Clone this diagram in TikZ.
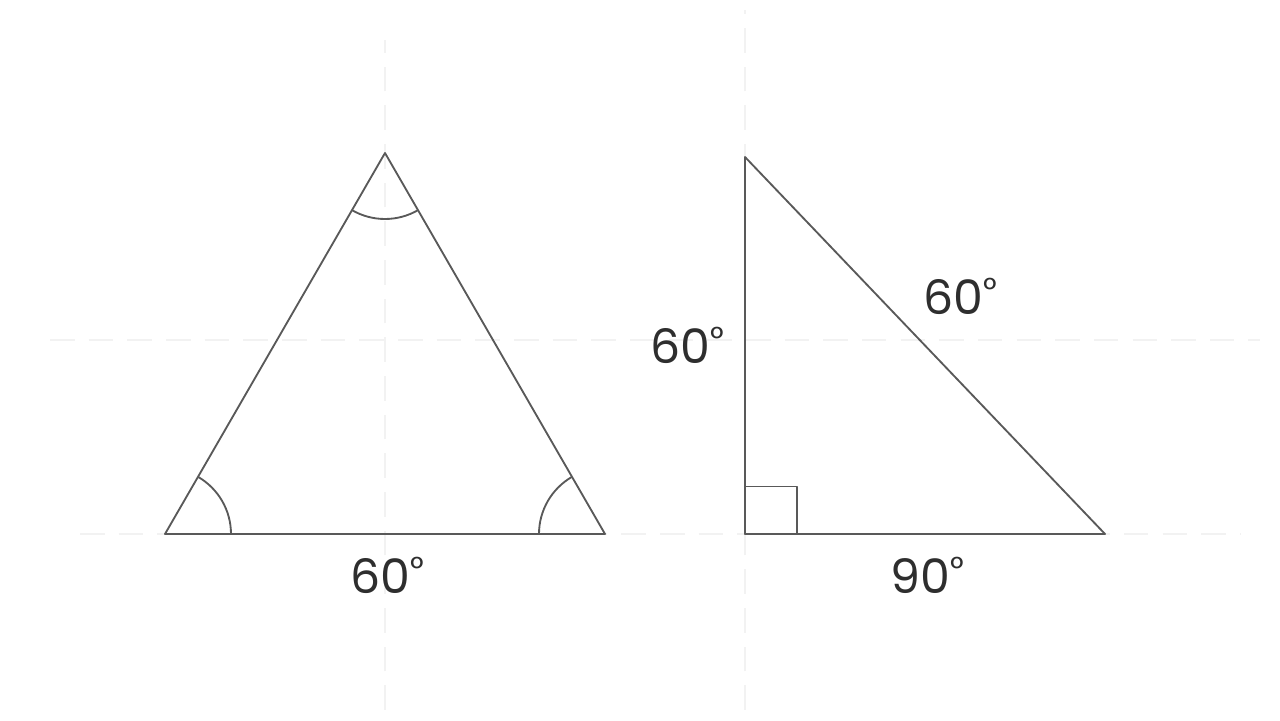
\documentclass[tikz,border=0pt]{standalone}
\usepackage{fontspec}
\setmainfont{Poppins}
\usetikzlibrary{calc}
\newcommand{\dg}{\raisebox{0.5ex}{\fontsize{19}{20}\selectfont°}}
\tikzset{
	guide/.style={draw=black!5, line width=1.2pt, dash pattern=on 14pt off 8pt},
	edge/.style={draw=black!65, line width=1.05pt, line join=round},
	deg/.style={font=\fontsize{27}{30}\selectfont, text=black!82}
}
\begin{document}
\begin{tikzpicture}
\useasboundingbox (0,0) rectangle (25.6,14.4);

% faint guide lines
\draw[guide] (1.0,7.6) -- (25.2,7.6);
\draw[guide] (1.6,3.72) -- (24.8,3.72);
\draw[guide] (7.7,0.2) -- (7.7,13.6);
\draw[guide] (14.9,0.2) -- (14.9,14.2);

% triangle with three arcs
\coordinate (a) at (3.3,3.72);
\coordinate (b) at (12.1,3.72);
\coordinate (c) at (7.7,11.34);
\draw[edge] (a) -- (b) -- (c) -- cycle;
\draw[edge] ($(a)+(1.32,0)$) arc (0:60:1.32);
\draw[edge] ($(b)+(-1.32,0)$) arc (180:120:1.32);
\draw[edge] ($(c)+(240:1.32)$) arc (240:300:1.32);

% right triangle
\coordinate (d) at (14.9,3.72);
\coordinate (e) at (14.9,11.26);
\coordinate (f) at (22.1,3.72);
\draw[edge] (d) -- (f) -- (e) -- cycle;
\draw[edge] (d) rectangle ++(1.04,0.95);

\node[deg] (base1) at (7.75,2.9) {60\dg};
\node[deg] (base2) at (18.55,2.9) {90\dg};
\node[deg] (side2) at (13.75,7.5) {60\dg};
\node[deg] (hyp2) at (19.2,8.48) {60\dg};
\end{tikzpicture}
\end{document}
